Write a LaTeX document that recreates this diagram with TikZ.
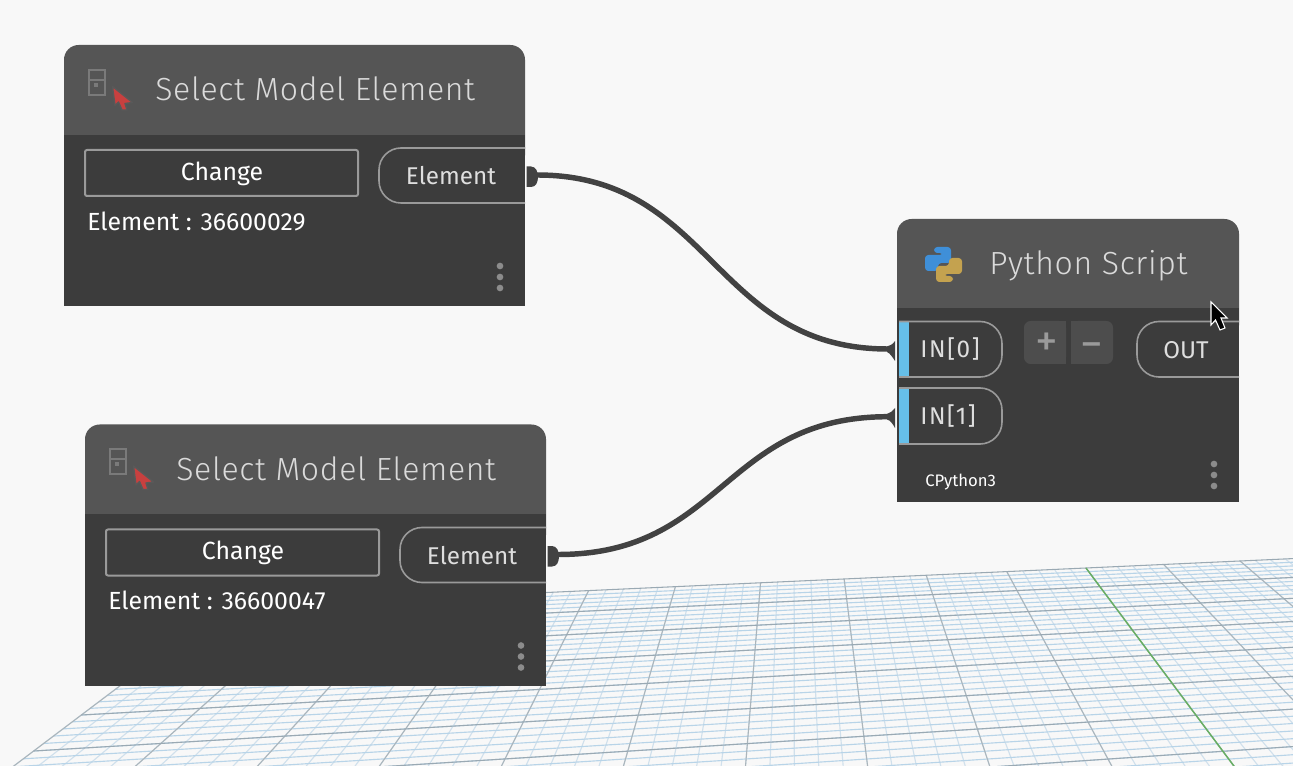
\documentclass[tikz,border=0pt]{standalone}
\usepackage{fontspec}
\setmainfont{Fira Sans}
\newfontfamily\titlefont[LetterSpace=2.1]{Fira Sans Light}
\newfontfamily\spacefont[LetterSpace=6.5]{Fira Sans}
\usetikzlibrary{calc}
\definecolor{bgc}{HTML}{F8F8F8}
\definecolor{headc}{HTML}{555555}
\definecolor{bodyc}{HTML}{3C3C3C}
\definecolor{wirec}{HTML}{424242}
\definecolor{edgec}{HTML}{9A9A9A}
\definecolor{dotc}{HTML}{8C8C8C}
\definecolor{bluec}{HTML}{66BFE9}
\definecolor{btnc}{HTML}{4D4D4D}
\definecolor{pmc}{HTML}{9A9A9A}
\definecolor{titlec}{HTML}{DADADA}
\definecolor{portc}{HTML}{DEDEDE}
\definecolor{gminor}{HTML}{D0E0EC}
\definecolor{gminorb}{HTML}{B8D4E8}
\definecolor{gmajor}{HTML}{ABB5BB}
\definecolor{gmajorb}{HTML}{9AA9B3}
\definecolor{ggreen}{HTML}{68AE63}
\definecolor{iconc}{HTML}{7A7A7A}
\definecolor{redc}{HTML}{C8403F}
\definecolor{pyblue}{HTML}{3F8FD8}
\definecolor{pyyellow}{HTML}{C4A24F}
\tikzset{
  wire/.style={draw=wirec,line width=4.1pt},
  portline/.style={draw=edgec,line width=1.2pt},
  title/.style={text=titlec,anchor=west,inner sep=0pt,font=\titlefont\fontsize{24}{28}\selectfont},
  porttext/.style={text=portc,inner sep=0pt,font=\fontsize{18.2}{20}\selectfont},
  intext/.style={text=portc,inner sep=0pt,font=\spacefont\fontsize{18.2}{20}\selectfont},
  bodytext/.style={text=white,inner sep=0pt,font=\fontsize{18.6}{20}\selectfont},
  optdot/.style={circle,fill=dotc,inner sep=0pt,minimum size=5pt},
  pmbtn/.style={fill=btnc},
  pmtext/.style={text=pmc,inner sep=0pt,font=\fontsize{34}{36}\selectfont},
}
\newcommand\gridpt[3]{%
  \pgfmathsetmacro\gW{1+0.009*(#1)-0.0456*(#2)}%
  \pgfmathsetmacro\gX{(1086+88.2*(#1)-36.2*(#2))/\gW}%
  \pgfmathsetmacro\gY{(568+1.548*(#1)-8.07*(#2))/\gW}%
  \coordinate (#3) at (\gX,\gY);}
\newcommand\selnode[4]{%
 \begin{scope}[shift={(#2,#3)}]
  \fill[headc,rounded corners=11pt] (64,45) rectangle (525,170);
  \fill[bodyc] (64,135) rectangle (525,306);
  % icon
  \draw[iconc,line width=1.5pt] (89,70) rectangle (105,95);
  \draw[iconc,line width=1.5pt] (89,80) -- (105,80);
  \fill[iconc] (93.5,83) rectangle (97.5,87);
  \draw[fill=redc,draw=black!65,line width=1pt,line join=round] (112.5,86.5) -- (132.5,102.5) -- (125,103.5) -- (127,110) -- (122,110) -- (118.5,102) -- (115,105.5) -- cycle;
  \node[title] (#1title) at (155,89) {Select Model Element};
  \draw[draw=edgec,line width=1.5pt,rounded corners=1.5pt] (85,150) rectangle (358,196);
  \node[bodytext] (#1change) at (222,173.5) {Change};
  \node[bodytext,anchor=west] (#1value) at (87,221) {Element : #4};
  \draw[portline,rounded corners=16.5pt] (525,148) -- (379,148) -- (379,203) -- (525,203);
  \node[porttext] (#1port) at (451,176) {Element};
  \node[optdot] (#1da) at (500,266) {};
  \node[optdot] (#1db) at (500,277) {};
  \node[optdot] (#1dc) at (500,288) {};
  \fill[wirec] (526.5,166.5) -- (531,166.5) .. controls (536,166.5) and (538,172) .. (538,177) .. controls (538,182) and (536,187) .. (531,187) -- (526.5,187) -- cycle;
  \coordinate (#1out) at (537,175);
 \end{scope}}
\begin{document}
\begin{tikzpicture}[x=0.75pt,y=-0.75pt]
\useasboundingbox (0,0) rectangle (1293,766);
\fill[bgc] (0,0) rectangle (1293,766);
% floor grid
\begin{scope}
\clip (0,0) rectangle (1293,766);
\foreach \i in {-50,...,15}{
  \pgfmathsetmacro\uu{\i/5}
  \gridpt{\uu}{0}{ga}\gridpt{\uu}{10}{gb}
  \draw[gminor,line width=.85pt] (ga) -- (gb);
}
\foreach \j in {1,...,50}{
  \pgfmathsetmacro\vv{\j/5}
  \gridpt{-10}{\vv}{ga}\gridpt{4}{\vv}{gb}
  \draw[gminorb,line width=.85pt] (ga) -- (gb);
}
\foreach \i in {-10,...,3}{
  \gridpt{\i}{0}{ga}\gridpt{\i}{10}{gb}
  \draw[gmajor,line width=.8pt] (ga) -- (gb);
}
\foreach \j in {0,...,10}{
  \gridpt{-10}{\j}{ga}\gridpt{4}{\j}{gb}
  \draw[gmajorb,line width=.8pt] (ga) -- (gb);
}
\gridpt{0}{0}{ga}\gridpt{0}{10}{gb}
\draw[ggreen,line width=1.1pt] (ga) -- (gb);
\end{scope}
% Select Model Element nodes
\selnode{a}{0}{0}{36600029}
\selnode{b}{21}{379.5}{36600047}
% Python Script node
\fill[headc,rounded corners=11pt] (897,219) rectangle (1239,340);
\fill[bodyc] (897,308) rectangle (1239,502);
\fill[pyblue,rounded corners=2.5pt] (934,247) -- (951,247) -- (951,263) -- (938,263) -- (938,271) -- (925,271) -- (925,255) -- (943,255) -- (943,253) -- (934,253) -- cycle;
\fill[pyyellow,rounded corners=2.5pt] (953,282) -- (936,282) -- (936,266) -- (949,266) -- (949,258) -- (962,258) -- (962,274) -- (944,274) -- (944,276) -- (953,276) -- cycle;
\node[title] (ctitle) at (989,265.5) {Python Script};
\fill[bluec] (899,322) rectangle (909,377);
\fill[bluec] (899,389) rectangle (909,444);
\draw[portline,rounded corners=16.5pt] (899,321.5) -- (1002,321.5) -- (1002,377) -- (899,377);
\draw[portline,rounded corners=16.5pt] (899,388) -- (1002,388) -- (1002,444) -- (899,444);
\node[intext] (cin0) at (950,349) {IN[0]};
\node[intext] (cin1) at (948,416) {IN[1]};
\fill[pmbtn,rounded corners=5pt] (1024,321) rectangle (1066,364);
\fill[pmbtn] (1045,321) rectangle (1066,364);
\fill[pmbtn,rounded corners=5pt] (1071,321) rectangle (1113,364);
\fill[pmbtn] (1071,321) rectangle (1092,364);
\node[pmtext] (cplus) at (1047,344.5) {+};
\node[pmtext] (cminus) at (1092,351) {−};
\draw[portline,rounded corners=16.5pt] (1239,321.5) -- (1137,321.5) -- (1137,377) -- (1239,377);
\node[porttext] (cout) at (1186,350) {OUT};
\node[text=white,inner sep=0pt,anchor=west,font=\fontsize{12.5}{14}\selectfont] (cver) at (925,482.5) {CPython3};
\node[optdot] (cda) at (1214,464) {};
\node[optdot] (cdb) at (1214,475) {};
\node[optdot] (cdc) at (1214,486) {};
\fill[wirec] (895,341) .. controls (893,344) and (890,346) .. (887,346.5) -- (887,352) .. controls (890,353) and (893,358) .. (895,361) -- cycle;
\fill[wirec] (895,408) .. controls (893,411) and (890,413) .. (887,414) -- (887,419.5) .. controls (890,420) and (893,424) .. (895,428) -- cycle;
\coordinate (cpa) at (888,349);
\coordinate (cpb) at (888,416.7);
% connectors
\draw[wire] (aout) .. controls ($(aout)+(175,0)$) and ($(cpa)+(-175,0)$) .. (cpa);
\draw[wire] (bout) .. controls ($(bout)+(165,0)$) and ($(cpb)+(-165,0)$) .. (cpb);
% mouse pointer
\draw[fill=black,draw=white,line width=.8pt,line join=miter] (1211,302) -- (1227,318) -- (1221,318) -- (1225,328) -- (1220,330) -- (1215.5,320) -- (1211,325) -- cycle;
\end{tikzpicture}
\end{document}
